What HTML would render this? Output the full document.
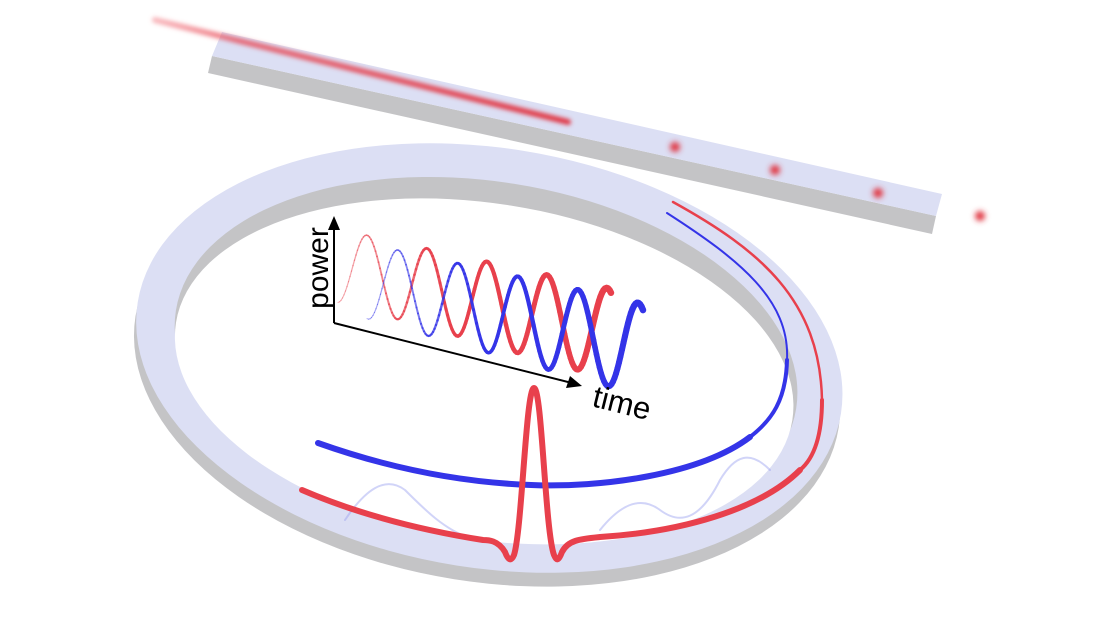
<!DOCTYPE html>
<html><head><meta charset="utf-8"><style>
html,body{margin:0;padding:0;background:#fff;width:1106px;height:622px;overflow:hidden}
svg{display:block}
</style></head><body>
<svg id="s" width="1106" height="622" viewBox="0 0 1106 622" xmlns="http://www.w3.org/2000/svg">
<defs>
<filter id="b3" x="-50%" y="-50%" width="200%" height="200%"><feGaussianBlur stdDeviation="3"/></filter>
<filter id="b2" x="-50%" y="-50%" width="200%" height="200%"><feGaussianBlur stdDeviation="2.2"/></filter>
<linearGradient id="beam" x1="155" y1="20" x2="570" y2="122" gradientUnits="userSpaceOnUse">
<stop offset="0" stop-color="#f2707a" stop-opacity="0.5"/><stop offset="0.2" stop-color="#e8505c" stop-opacity="0.8"/><stop offset="1" stop-color="#e03846"/></linearGradient>
</defs>
<!-- waveguide -->
<polygon points="212,56 936,216 932,234 208,73" fill="#c4c4c6"/>
<polygon points="222,32 942,194 936,216 212,56" fill="#dcdff4"/>
<line x1="155" y1="20" x2="568" y2="122" stroke="url(#beam)" stroke-width="6" stroke-linecap="round" filter="url(#b2)"/>
<g fill="#e0303c" filter="url(#b3)">
<circle cx="675" cy="147" r="5"/><circle cx="775" cy="170" r="5"/><circle cx="878" cy="193" r="5"/><circle cx="980" cy="216" r="5"/>
</g>
<!-- ring -->
<g transform="rotate(9 489 360)">
<ellipse cx="489" cy="372" rx="356" ry="210" fill="#c4c4c6"/>
<ellipse cx="489" cy="358" rx="356" ry="210" fill="#dcdff4"/>
<ellipse cx="486" cy="360" rx="314" ry="178" fill="#c4c4c6"/>
<ellipse cx="486" cy="372" rx="312" ry="168" fill="#fff"/>
</g>
<g id="waves"></g>
<!-- axes -->
<g stroke="#000" stroke-width="2" fill="none">
<line x1="334" y1="323" x2="334" y2="226"/>
<line x1="334" y1="323" x2="572" y2="383"/>
</g>
<polygon points="334,216 328,230 340,230" fill="#000"/>
<polygon points="582,386 566,388 570,376" fill="#000"/>
<text transform="translate(328,268) rotate(-90)" text-anchor="middle" font-family="Liberation Sans, sans-serif" font-size="30">power</text>
<text transform="translate(591,406) rotate(14)" font-family="Liberation Sans, sans-serif" font-size="31">time</text>
<!-- ring pulses -->
<g fill="none" stroke-linecap="round">
<path d="M345,520 C365,490 385,475 405,490 C425,510 445,530 470,538" stroke="#9aa0f0" stroke-width="2" opacity="0.45"/>
<path d="M600,530 C620,505 640,495 660,510 C680,525 700,520 720,480 C735,455 750,450 770,470" stroke="#9aa0f0" stroke-width="2" opacity="0.45"/>
<path d="M667,213 C740,260 790,300 787,360" stroke="#3434e8" stroke-width="2"/>
<path d="M787,360 C786,400 772,420 750,437" stroke="#3434e8" stroke-width="4"/>
<path d="M750,437 C700,475 600,488 531,485 C450,482 380,465 318,443" stroke="#3434e8" stroke-width="6"/>
<path d="M673,202 C760,250 820,300 822,400" stroke="#e8404c" stroke-width="2.5"/>
<path d="M822,400 C822,440 812,460 800,470" stroke="#e8404c" stroke-width="4"/>
<path d="M800,470 C760,510 680,532 600,537 C580,539 568,540 562,552 C559,560 557,562 554,555 C545,530 542,388 534,388 C526,388 522,530 514,555 C511,562 508,560 505,552 C498,540 488,540 483,540 C420,530 360,515 302,490" stroke="#e8404c" stroke-width="6" stroke-linejoin="round"/>
</g>
</svg>
<script>
(function(){
var g=document.getElementById('waves');var ns='http://www.w3.org/2000/svg';
function wave(x0,x1,pk,col,base0){
 var pts=[];for(var x=x0;x<=x1;x+=1.5){var A=37+(x-340)*0.03;var b=base0+(x-367)*0.25;var y=b-A*Math.cos(2*Math.PI*(x-pk)/60);pts.push([x,y]);}
 for(var i=0;i<pts.length-1;i++){var f=(pts[i][0]-x0)/(x1-x0);var l=document.createElementNS(ns,'line');
  l.setAttribute('x1',pts[i][0]);l.setAttribute('y1',pts[i][1]);l.setAttribute('x2',pts[i+1][0]);l.setAttribute('y2',pts[i+1][1]);
  l.setAttribute('stroke',col);l.setAttribute('stroke-width',1+f*5.5);l.setAttribute('stroke-linecap','round');l.setAttribute('opacity',Math.min(1,0.4+f*1.4));g.appendChild(l);}
}
wave(338,611,367,'#e8404c',273);
wave(367,643,398,'#3434e8',281);
})();
</script>
</body></html>
